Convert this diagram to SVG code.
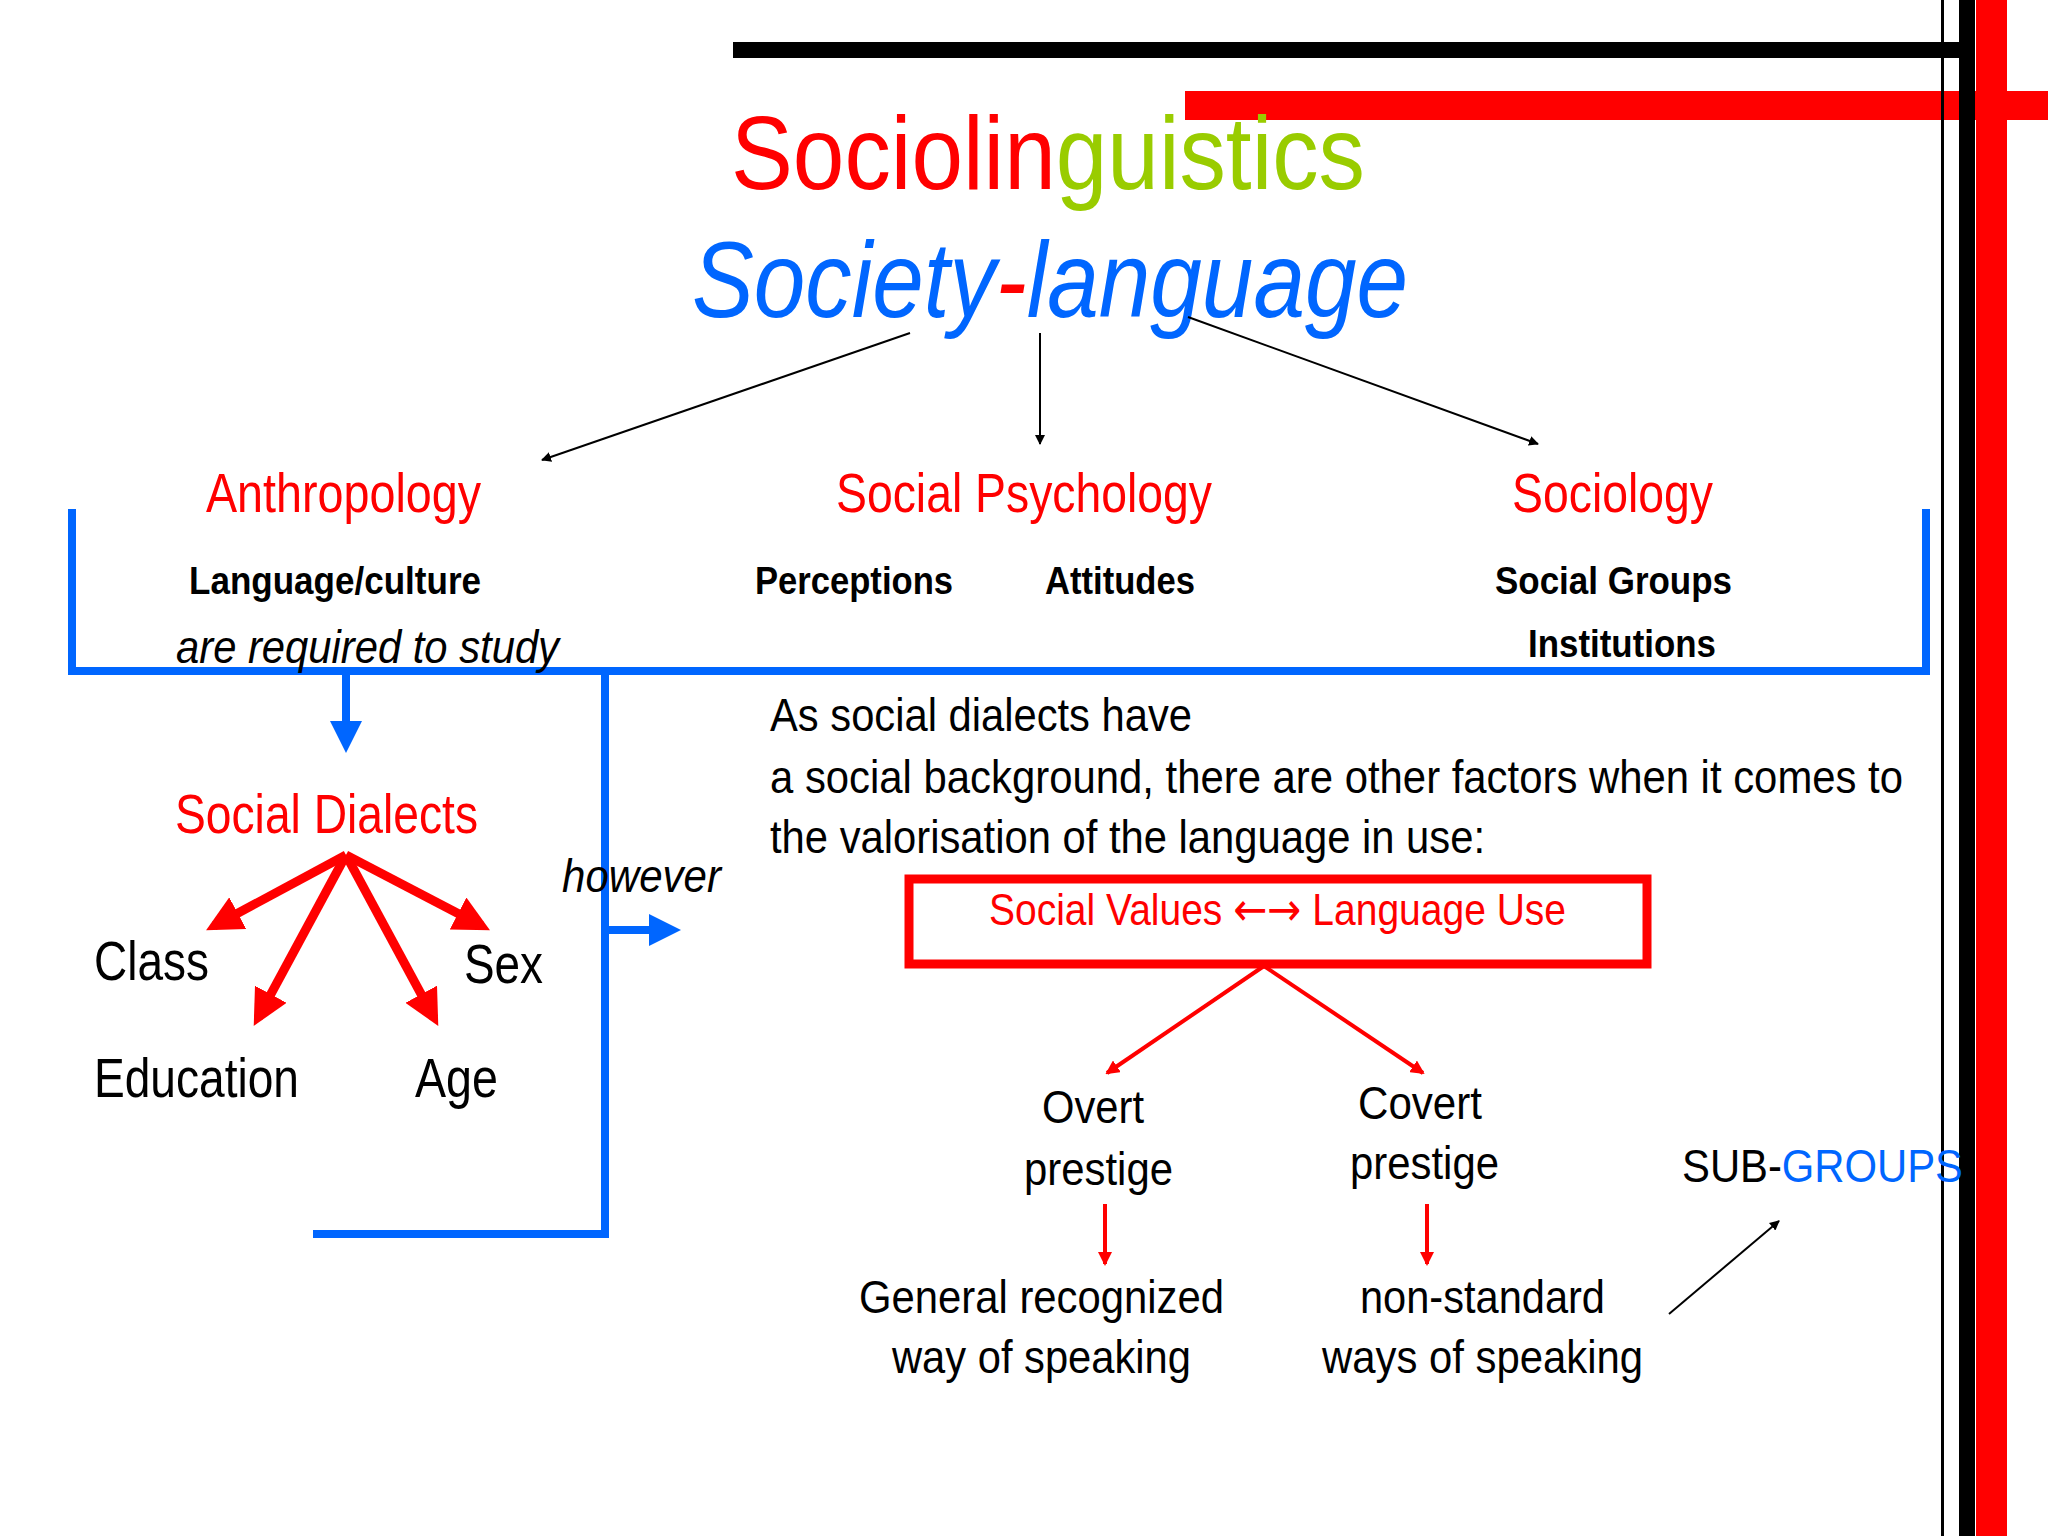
<svg xmlns="http://www.w3.org/2000/svg" width="2048" height="1536" viewBox="0 0 2048 1536">
<defs>
<style>
text{font-family:"Liberation Sans",Arial,sans-serif;}
.red{fill:#ff0000}
.blk{fill:#000}
.h{font-size:55px}
.b{font-size:39px;font-weight:bold}
.m{font-size:47px}
.it{font-style:italic}
</style>
<marker id="ak" markerWidth="10" markerHeight="10" refX="9" refY="5" orient="auto" markerUnits="userSpaceOnUse"><path d="M0,0L10,5L0,10Z" fill="#000"/></marker>
<marker id="ab" markerWidth="4" markerHeight="4" refX="3" refY="2" orient="auto"><path d="M0,0L4,2L0,4Z" fill="#0066ff"/></marker>
<marker id="ar" markerWidth="4" markerHeight="4" refX="3" refY="2" orient="auto"><path d="M0,0L4,2L0,4Z" fill="#ff0000"/></marker>
<marker id="ar2" markerWidth="14" markerHeight="14" refX="12" refY="7" orient="auto" markerUnits="userSpaceOnUse"><path d="M0,0L14,7L0,14Z" fill="#ff0000"/></marker>
</defs>
<rect width="2048" height="1536" fill="#fff"/>
<g id="decor">
<rect x="733" y="42" width="1230" height="16" fill="#000"/>
<rect x="1185" y="91" width="863" height="29" fill="#ff0000"/>
<rect x="1941" y="0" width="3" height="1536" fill="#000"/>
<rect x="1959" y="0" width="16" height="1536" fill="#000"/>
<rect x="1976" y="0" width="31" height="1536" fill="#ff0000"/>
</g>
<g id="title">
<text x="731" y="189" font-size="104" textLength="634" lengthAdjust="spacingAndGlyphs"><tspan class="red">Sociolin</tspan><tspan fill="#99cc00">guistics</tspan></text>
<text x="692" y="317" font-size="107" class="it" fill="#0066ff" textLength="716" lengthAdjust="spacingAndGlyphs">Society<tspan fill="#ff0000">-</tspan>language</text>
</g>
<g id="connectors" fill="none">
<line x1="910" y1="333" x2="542" y2="460" stroke="#000" stroke-width="2" marker-end="url(#ak)"/>
<line x1="1040" y1="333" x2="1040" y2="444" stroke="#000" stroke-width="2" marker-end="url(#ak)"/>
<line x1="1188" y1="317" x2="1538" y2="444" stroke="#000" stroke-width="2" marker-end="url(#ak)"/>
<polyline points="72,509 72,671 1926,671 1926,509" stroke="#0066ff" stroke-width="8"/>
<line x1="346" y1="671" x2="346" y2="745" stroke="#0066ff" stroke-width="8" marker-end="url(#ab)"/>
<polyline points="605,671 605,1234 313,1234" stroke="#0066ff" stroke-width="8"/>
<line x1="605" y1="930" x2="673" y2="930" stroke="#0066ff" stroke-width="8" marker-end="url(#ab)"/>
<g stroke="#ff0000" stroke-width="9">
<line x1="346" y1="855" x2="214" y2="926" marker-end="url(#ar)"/>
<line x1="346" y1="855" x2="258" y2="1018" marker-end="url(#ar)"/>
<line x1="346" y1="855" x2="434" y2="1018" marker-end="url(#ar)"/>
<line x1="346" y1="855" x2="482" y2="926" marker-end="url(#ar)"/>
</g>
<g stroke="#ff0000" stroke-width="4">
<line x1="1264" y1="966" x2="1107" y2="1073" marker-end="url(#ar2)"/>
<line x1="1264" y1="966" x2="1423" y2="1073" marker-end="url(#ar2)"/>
<line x1="1105" y1="1204" x2="1105" y2="1264" marker-end="url(#ar2)"/>
<line x1="1427" y1="1204" x2="1427" y2="1264" marker-end="url(#ar2)"/>
</g>
<line x1="1669" y1="1314" x2="1779" y2="1221" stroke="#000" stroke-width="2" marker-end="url(#ak)"/>
</g>
<g id="anthropology">
<text x="206" y="512" class="h red" textLength="275" lengthAdjust="spacingAndGlyphs">Anthropology</text>
<text x="189" y="594" class="b" textLength="292" lengthAdjust="spacingAndGlyphs">Language/culture</text>
<text x="176" y="663" class="m it" textLength="383" lengthAdjust="spacingAndGlyphs">are required to study</text>
</g>
<g id="socialpsychology">
<text x="836" y="512" class="h red" textLength="376" lengthAdjust="spacingAndGlyphs">Social Psychology</text>
<text x="755" y="594" class="b" textLength="198" lengthAdjust="spacingAndGlyphs">Perceptions</text>
<text x="1045" y="594" class="b" textLength="150" lengthAdjust="spacingAndGlyphs">Attitudes</text>
</g>
<g id="sociology">
<text x="1512" y="512" class="h red" textLength="201" lengthAdjust="spacingAndGlyphs">Sociology</text>
<text x="1495" y="594" class="b" textLength="237" lengthAdjust="spacingAndGlyphs">Social Groups</text>
<text x="1528" y="657" class="b" textLength="188" lengthAdjust="spacingAndGlyphs">Institutions</text>
</g>
<g id="dialects">
<text x="175" y="833" class="h red" textLength="303" lengthAdjust="spacingAndGlyphs">Social Dialects</text>
<text x="94" y="980" class="h" textLength="115" lengthAdjust="spacingAndGlyphs">Class</text>
<text x="464" y="983" class="h" textLength="79" lengthAdjust="spacingAndGlyphs">Sex</text>
<text x="94" y="1097" class="h" textLength="205" lengthAdjust="spacingAndGlyphs">Education</text>
<text x="415" y="1097" class="h" textLength="83" lengthAdjust="spacingAndGlyphs">Age</text>
</g>
<g id="however"><text x="562" y="892" class="m it" textLength="159" lengthAdjust="spacingAndGlyphs">however</text></g>
<g id="paragraph">
<text x="770" y="731" class="m" textLength="422" lengthAdjust="spacingAndGlyphs">As social dialects have</text>
<text x="770" y="793" class="m" textLength="1133" lengthAdjust="spacingAndGlyphs">a social background, there are other factors when it comes to</text>
<text x="770" y="853" class="m" textLength="715" lengthAdjust="spacingAndGlyphs">the valorisation of the language in use:</text>
</g>
<g id="values">
<rect x="909" y="879" width="738" height="85" fill="none" stroke="#ff0000" stroke-width="9"/>
<text x="989" y="925" font-size="44" class="red" textLength="577" lengthAdjust="spacingAndGlyphs">Social Values <tspan font-family="DejaVu Sans, sans-serif" font-size="46">←→</tspan> Language Use</text>
</g>
<g id="overt">
<text x="1042" y="1123" class="m" textLength="102" lengthAdjust="spacingAndGlyphs">Overt</text>
<text x="1024" y="1185" class="m" textLength="149" lengthAdjust="spacingAndGlyphs">prestige</text>
<text x="859" y="1313" class="m" textLength="365" lengthAdjust="spacingAndGlyphs">General recognized</text>
<text x="892" y="1373" class="m" textLength="299" lengthAdjust="spacingAndGlyphs">way of speaking</text>
</g>
<g id="covert">
<text x="1358" y="1119" class="m" textLength="124" lengthAdjust="spacingAndGlyphs">Covert</text>
<text x="1350" y="1179" class="m" textLength="149" lengthAdjust="spacingAndGlyphs">prestige</text>
<text x="1360" y="1313" class="m" textLength="245" lengthAdjust="spacingAndGlyphs">non-standard</text>
<text x="1322" y="1373" class="m" textLength="321" lengthAdjust="spacingAndGlyphs">ways of speaking</text>
</g>
<g id="subgroups"><text x="1682" y="1182" class="m" textLength="281" lengthAdjust="spacingAndGlyphs">SUB-<tspan fill="#0066ff">GROUPS</tspan></text></g>
</svg>
